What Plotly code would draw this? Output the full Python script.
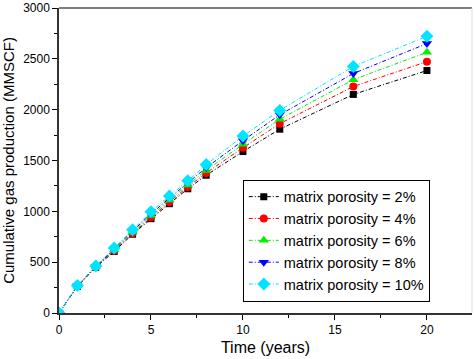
import plotly.graph_objects as go

time_years = [0, 1, 2, 3, 4, 5, 6, 7, 8, 10, 12, 16, 20]
por_2 = [0, 262, 450, 605, 775, 928, 1075, 1222, 1355, 1588, 1808, 2150, 2385]
por_4 = [0, 264, 453, 612, 785, 943, 1093, 1240, 1378, 1625, 1862, 2228, 2472]
por_6 = [0, 266, 456, 620, 796, 958, 1112, 1260, 1402, 1660, 1906, 2295, 2565]
por_8 = [0, 268, 459, 628, 808, 975, 1130, 1280, 1430, 1695, 1950, 2356, 2650]
por_10 = [0, 270, 462, 640, 820, 995, 1152, 1300, 1460, 1740, 1993, 2425, 2722]

series = [
    ("matrix porosity = 2%", por_2, "black", "square", 7),
    ("matrix porosity = 4%", por_4, "red", "circle", 8),
    ("matrix porosity = 6%", por_6, "#00ee00", "triangle-up", 9),
    ("matrix porosity = 8%", por_8, "blue", "triangle-down", 9),
    ("matrix porosity = 10%", por_10, "#00e5ff", "diamond", 10),
]

FONT = "Arial, Liberation Sans, sans-serif"

fig = go.Figure()
for name, vals, color, sym, sz in series:
    fig.add_trace(go.Scatter(
        x=time_years, y=vals, name=name, mode="lines+markers",
        line=dict(color=color, width=1, dash="4px,2px,1px,2px"),
        marker=dict(symbol=sym, size=sz, color=color, line=dict(width=0)),
    ))

fig.update_layout(
    width=474, height=359,
    margin=dict(l=59, r=2, t=8, b=46),
    paper_bgcolor="white", plot_bgcolor="white",
    font=dict(family=FONT, color="black", size=12),
    showlegend=True,
    legend=dict(
        x=0.445, y=0.237, xanchor="left", yanchor="middle",
        bordercolor="black", borderwidth=1, bgcolor="white",
        font=dict(family=FONT, size=14.5, color="black"),
        tracegroupgap=0, itemwidth=30,
    ),
    xaxis=dict(
        range=[0, 22.45], tickvals=[0, 5, 10, 15, 20],
        ticks="outside", ticklen=5, tickwidth=1, tickcolor="black",
        minor=dict(tickvals=[2.5, 7.5, 12.5, 17.5], ticks="outside", ticklen=3, tickcolor="black"),
        showline=True, linecolor="#333333", linewidth=1.5,
        showgrid=False, zeroline=False, automargin=False,
        title=dict(text="Time (years)", font=dict(size=16, family=FONT), standoff=6),
        tickfont=dict(size=12),
    ),
    yaxis=dict(
        range=[0, 3000], tickvals=[0, 500, 1000, 1500, 2000, 2500, 3000],
        ticks="outside", ticklen=5, tickwidth=1, tickcolor="black",
        minor=dict(tickvals=[250, 750, 1250, 1750, 2250, 2750], ticks="outside", ticklen=3, tickcolor="black"),
        showline=True, linecolor="#333333", linewidth=1.5,
        showgrid=False, zeroline=False, automargin=False,
        ticklabeloverflow="allow",
        title=dict(text="Cumulative gas production (MMSCF)", font=dict(size=15, family=FONT), standoff=9),
        tickfont=dict(size=12),
    ),
    shapes=[
        dict(type="line", xref="paper", yref="paper", x0=0, x1=1, y0=1, y1=1,
             line=dict(color="#555555", width=1.5)),
        dict(type="line", xref="paper", yref="paper", x0=1, x1=1, y0=0, y1=1,
             line=dict(color="#dddddd", width=1)),
    ],
)

fig.write_html("out.html", config={"displayModeBar": False},
               post_script="document.body.style.margin='0';document.body.style.overflow='hidden';")
